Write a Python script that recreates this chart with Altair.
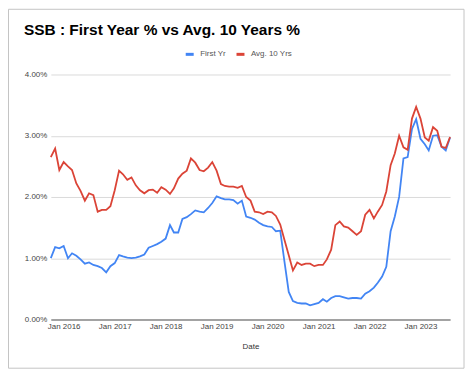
import altair as alt
import pandas as pd

# Monthly SSB issues, Oct 2015 .. Aug 2023
months = pd.date_range("2015-10-01", periods=95, freq="MS")

first_yr = [
    1.00, 1.18, 1.16, 1.20, 1.00, 1.08, 1.04, 0.98, 0.91, 0.93,
    0.89, 0.87, 0.84, 0.77, 0.87, 0.92, 1.05, 1.03, 1.01, 1.00,
    1.01, 1.03, 1.06, 1.17, 1.20, 1.23, 1.27, 1.32, 1.54, 1.42,
    1.42, 1.64, 1.67, 1.72, 1.78, 1.76, 1.75, 1.82, 1.90, 2.01,
    1.98, 1.96, 1.96, 1.95, 1.89, 1.94, 1.68, 1.66, 1.63, 1.58,
    1.54, 1.52, 1.51, 1.44, 1.45, 0.95, 0.45, 0.30, 0.27, 0.26,
    0.26, 0.23, 0.25, 0.27, 0.33, 0.29, 0.35, 0.38, 0.38, 0.36,
    0.34, 0.35, 0.35, 0.34, 0.42, 0.46, 0.52, 0.60, 0.70, 0.86,
    1.44, 1.68, 2.00, 2.63, 2.65, 3.11, 3.27, 2.95, 2.86, 2.76,
    3.00, 3.01, 2.82, 2.76, 2.97,
]

avg_10 = [
    2.65, 2.79, 2.44, 2.57, 2.50, 2.44, 2.22, 2.10, 1.94, 2.06,
    2.03, 1.76, 1.79, 1.79, 1.85, 2.11, 2.43, 2.37, 2.28, 2.32,
    2.19, 2.11, 2.06, 2.11, 2.12, 2.07, 2.16, 2.12, 2.05, 2.14,
    2.30, 2.38, 2.43, 2.63, 2.56, 2.44, 2.42, 2.48, 2.57, 2.43,
    2.21, 2.18, 2.17, 2.17, 2.15, 2.18, 2.00, 1.94, 1.76, 1.75,
    1.72, 1.76, 1.75, 1.69, 1.55, 1.30, 1.05, 0.80, 0.93, 0.89,
    0.91, 0.91, 0.87, 0.89, 0.89, 0.98, 1.14, 1.54, 1.60, 1.52,
    1.50, 1.44, 1.38, 1.44, 1.71, 1.79, 1.65, 1.76, 1.87, 2.09,
    2.52, 2.71, 3.00, 2.81, 2.77, 3.28, 3.47, 3.28, 2.97, 2.92,
    3.14, 3.08, 2.82, 2.80, 2.98,
]

series_names = ["First Yr", "Avg. 10 Yrs"]
series_colors = ["#4285F4", "#DB4437"]
y_ticks = [0, 1, 2, 3, 4]
x_tick_years = [2016, 2017, 2018, 2019, 2020, 2021, 2022, 2023]

df = pd.DataFrame({
    "Date": list(months) + list(months),
    "Rate": first_yr + avg_10,
    "Series": [series_names[0]] * len(first_yr) + [series_names[1]] * len(avg_10),
})

FONT = "Liberation Sans"

lines = alt.Chart(df).mark_line(strokeWidth=1.8).encode(
    x=alt.X(
        "Date:T",
        title="Date",
        scale=alt.Scale(domain=[alt.DateTime(year=2015, month=10, date=1),
                                alt.DateTime(year=2023, month=8, date=1)]),
        axis=alt.Axis(
            values=[alt.DateTime(year=y, month=1, date=1) for y in x_tick_years],
            format="%b %Y",
            grid=False,
            domain=True,
            domainColor="#8a8a8a",
            domainWidth=1.5,
            labelPadding=3,
            titlePadding=12,
        ),
    ),
    y=alt.Y(
        "Rate:Q",
        title=None,
        scale=alt.Scale(domain=[0, 4]),
        axis=alt.Axis(
            values=y_ticks,
            labelExpr="format(datum.value, '.2f') + '%'",
            domain=False,
            labelPadding=4,
        ),
    ),
    color=alt.Color(
        "Series:N",
        sort=series_names,
        scale=alt.Scale(domain=series_names, range=series_colors),
        legend=alt.Legend(
            title=None,
            orient="none",
            legendX=134,
            legendY=-26,
            direction="horizontal",
            symbolType="stroke",
            symbolStrokeWidth=3,
            symbolSize=64,
            labelFontSize=8,
            labelFont=FONT,
            labelColor="#555555",
            columnPadding=4,
            labelOffset=5,
        ),
    ),
)

border = alt.Chart(pd.DataFrame({"k": [0]})).mark_rect(
    fillOpacity=0, stroke="#c4c4c4", strokeWidth=1
).encode(
    x=alt.value(-42.5), x2=alt.value(415), y=alt.value(-65.5), y2=alt.value(295)
)

chart = alt.layer(border, lines).properties(
    width=401,
    height=246,
    autosize="none",
    padding={"left": 43, "top": 66, "right": 16, "bottom": 50},
    title=alt.TitleParams(
        "SSB : First Year % vs Avg. 10 Years %",
        anchor="start",
        font=FONT,
        fontSize=15.5,
        fontWeight="bold",
        color="#000000",
        dx=16,
        offset=-30,
    ),
).configure_view(strokeWidth=0).configure_axis(
    labelFont=FONT,
    labelFontSize=8,
    labelColor="#444444",
    titleFont=FONT,
    titleFontSize=8,
    titleFontWeight="normal",
    titleColor="#333333",
    ticks=False,
    gridColor="#dadada",
    gridWidth=1,
)

chart.save("out.html", embed_options={"renderer": "svg", "actions": False})
